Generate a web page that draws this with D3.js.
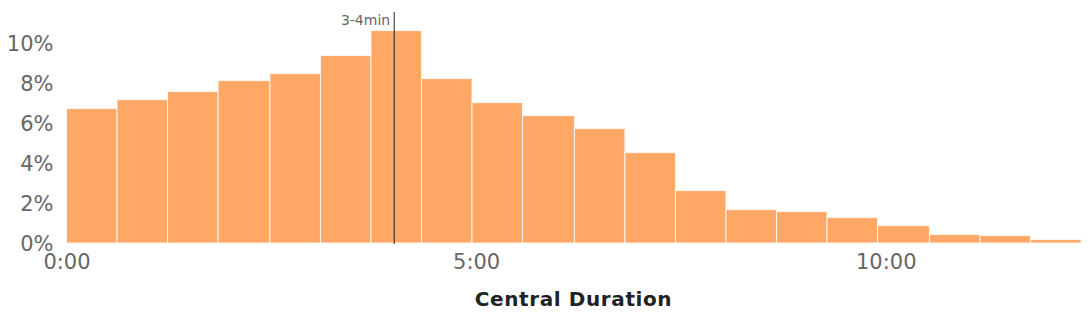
<!DOCTYPE html>
<html>
<head>
<meta charset="utf-8">
<style>
  body { margin: 0; background: #fff; }
  svg { display: block; }
</style>
</head>
<body>
<div id="chart"></div>
<script src="https://d3js.org/d3.v7.min.js"></script>
<script>

// bin edges in seconds (20 bins)
var binEdges = [0, 37, 74, 111, 149, 186, 223, 260, 297, 334, 372, 409, 446, 483, 520, 557, 594, 632, 669, 706, 743];
// share of rows per bin
var shares = [0.0672, 0.0717, 0.0757, 0.0812, 0.0847, 0.0937, 0.1062, 0.0822, 0.0702, 0.0637,
              0.0572, 0.0452, 0.0262, 0.0167, 0.0157, 0.0127, 0.0087, 0.0042, 0.0037, 0.0017];
var xTicks = [0, 300, 600];
var yTicks = [0, 0.02, 0.04, 0.06, 0.08, 0.10];
var marker = { at: 240, label: "3-4min" };

var width = 1092, height = 317;
var plotL = 66.5, plotR = 1081, plotT = 12, plotB = 243;

var barcolor = "#FFA866";
var tickcolor = "#666666";
var font = "DejaVu Sans, Verdana, sans-serif";

var svg = d3.select("#chart").append("svg")
    .attr("width", width)
    .attr("height", height);

var x = d3.scaleLinear().domain([0, 743]).range([plotL, plotR]);
var y = d3.scaleLinear().domain([0, 0.1]).range([plotB, 43]);

var bins = shares.map(function(v, i) { return { x0: binEdges[i], x1: binEdges[i + 1], v: v }; });

// bars
svg.append("g").selectAll("rect")
   .data(bins)
   .enter().append("rect")
   .attr("x", function(d) { return x(d.x0); })
   .attr("width", function(d) { return x(d.x1) - x(d.x0); })
   .attr("y", function(d) { return y(d.v); })
   .attr("height", function(d) { return y(0) - y(d.v); })
   .style("fill", barcolor)
   .style("stroke", "#FFF4EC")
   .style("stroke-width", 1);

// y axis (labels only)
var yAxis = d3.axisLeft(y)
   .tickValues(yTicks)
   .tickSize(0)
   .tickPadding(0)
   .tickFormat(function(d) { return Math.round(d * 100) + "%"; });
var gy = svg.append("g").attr("transform", "translate(53.5,0)").call(yAxis);
gy.select(".domain").remove();
gy.selectAll("text")
   .attr("dy", "0.36em")
   .style("font-family", font)
   .style("font-size", "21px")
   .style("fill", tickcolor);

// x axis (labels only)
var xAxis = d3.axisBottom(x)
   .tickValues(xTicks)
   .tickSize(0)
   .tickPadding(0)
   .tickFormat(function(d) { return Math.floor(d / 60) + ":" + d3.format("02")(d % 60); });
var gx = svg.append("g").attr("transform", "translate(0,250)").call(xAxis);
gx.select(".domain").remove();
gx.selectAll("text")
   .attr("dy", "0.9em")
   .style("font-family", font)
   .style("font-size", "21px")
   .style("fill", tickcolor);

// axis title
svg.append("text")
   .text("Central Duration")
   .attr("x", 573.5)
   .attr("y", 306)
   .style("text-anchor", "middle")
   .style("font-family", font)
   .style("font-weight", "bold")
   .style("font-size", "20px")
   .style("letter-spacing", "0.6px")
   .style("fill", "#222222");

// marker line
svg.append("line")
   .attr("x1", x(marker.at)).attr("x2", x(marker.at))
   .attr("y1", plotT).attr("y2", plotB + 1)
   .style("stroke", "#222222")
   .style("stroke-width", 1);

svg.append("text")
   .text(marker.label)
   .attr("x", x(marker.at) - 4)
   .attr("y", 25)
   .style("text-anchor", "end")
   .style("font-family", font)
   .style("font-size", "14px")
   .style("fill", "#666666");

</script>
</body>
</html>
